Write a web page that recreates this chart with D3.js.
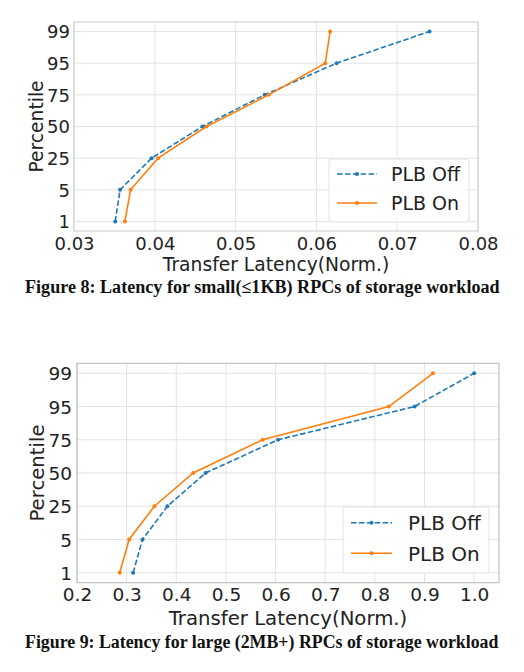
<!DOCTYPE html>
<html>
<head>
<meta charset="utf-8">
<script src="https://cdn.jsdelivr.net/npm/d3@7"></script>
<style>
  html, body { margin: 0; padding: 0; background: #fff; }
  svg { display: block; }
</style>
</head>
<body>
<svg id="fig" width="524" height="672"></svg>
<script>
// ---- Data ----
const percentiles = ["1", "5", "25", "50", "75", "95", "99"];
const seriesNames = ["PLB Off", "PLB On"];

// Figure 8: small (<=1KB) RPCs
const smallOff = [0.0351, 0.0357, 0.0396, 0.0459, 0.0536, 0.0625, 0.0740];
const smallOn  = [0.0363, 0.0370, 0.0404, 0.0464, 0.0541, 0.0611, 0.0617];
const smallTicks = [0.03, 0.04, 0.05, 0.06, 0.07, 0.08];
const smallTickLabels = ["0.03", "0.04", "0.05", "0.06", "0.07", "0.08"];

// Figure 9: large (2MB+) RPCs
const largeOff = [0.313, 0.332, 0.382, 0.459, 0.605, 0.880, 1.000];
const largeOn  = [0.286, 0.305, 0.356, 0.434, 0.574, 0.828, 0.917];
const largeTicks = [0.2, 0.3, 0.4, 0.5, 0.6, 0.7, 0.8, 0.9, 1.0];
const largeTickLabels = ["0.2", "0.3", "0.4", "0.5", "0.6", "0.7", "0.8", "0.9", "1.0"];

const xLabel = "Transfer Latency(Norm.)";
const yLabel = "Percentile";
const caption8 = "Figure 8: Latency for small(\u22641KB) RPCs of storage workload";
const caption9 = "Figure 9: Latency for large (2MB+) RPCs of storage workload";

const colors = ["#1f77b4", "#ff7f0e"];
const dashes = ["5.5,2.4", null];
const sans = "'DejaVu Sans', sans-serif";
const serif = "'Liberation Serif', 'DejaVu Serif', serif";

const svg = d3.select("#fig");

function drawChart(cfg) {
  const g = svg.append("g");
  const x = d3.scaleLinear().domain(cfg.xDomain).range([cfg.left, cfg.right]);
  const yIdx = d3.scaleLinear().domain([-0.3, percentiles.length - 1 + 0.3]).range([cfg.bottom, cfg.top]);
  const y = p => yIdx(percentiles.indexOf(p));

  // gridlines
  const grid = g.append("g");
  grid.selectAll("line.gx").data(cfg.ticks).join("line")
    .attr("x1", d => x(d)).attr("x2", d => x(d))
    .attr("y1", cfg.top).attr("y2", cfg.bottom)
    .attr("stroke", "#e3e3e3").attr("stroke-width", 1);
  grid.selectAll("line.gy").data(percentiles).join("line")
    .attr("x1", cfg.left).attr("x2", cfg.right)
    .attr("y1", d => y(d)).attr("y2", d => y(d))
    .attr("stroke", "#e3e3e3").attr("stroke-width", 1);

  // axes via d3 axis (no tick lines, just labels)
  const xAxis = d3.axisBottom(x).tickValues(cfg.ticks)
    .tickFormat((d, i) => cfg.tickLabels[i]).tickSize(0).tickPadding(0);
  const xg = g.append("g").attr("transform", `translate(0,${cfg.bottom})`).call(xAxis);
  xg.select(".domain").remove();
  xg.selectAll("text").attr("font-family", sans).attr("font-size", cfg.tickFont)
    .attr("fill", "#222").attr("dy", null).attr("y", cfg.xTickBase - cfg.bottom);

  const yScaleBand = d3.scalePoint().domain(percentiles)
    .range([yIdx(0), yIdx(percentiles.length - 1)]);
  const yAxis = d3.axisLeft(yScaleBand).tickSize(0).tickPadding(0);
  const yg = g.append("g").attr("transform", `translate(${cfg.yTickRight},0)`).call(yAxis);
  yg.select(".domain").remove();
  yg.selectAll("text").attr("font-family", sans).attr("font-size", cfg.tickFont)
    .attr("fill", "#222").attr("dy", "0.36em").attr("x", 0);

  // frame
  g.append("rect").attr("x", cfg.left).attr("y", cfg.top)
    .attr("width", cfg.right - cfg.left).attr("height", cfg.bottom - cfg.top)
    .attr("fill", "none").attr("stroke", cfg.frame).attr("stroke-width", 1);

  // series
  const line = d3.line().x(d => x(d.v)).y(d => y(d.p));
  cfg.series.forEach((vals, si) => {
    const pts = vals.map((v, i) => ({ v, p: percentiles[i] }));
    g.append("path").datum(pts).attr("d", line)
      .attr("fill", "none").attr("stroke", colors[si]).attr("stroke-width", 1.6)
      .attr("stroke-dasharray", dashes[si]);
    g.selectAll(null).data(pts).join("circle")
      .attr("cx", d => x(d.v)).attr("cy", d => y(d.p)).attr("r", 2)
      .attr("fill", colors[si]);
  });

  // legend
  const L = cfg.legend;
  g.append("rect").attr("x", L.x).attr("y", L.y).attr("width", L.w).attr("height", L.h)
    .attr("rx", 3).attr("fill", "#fff").attr("fill-opacity", 0.85)
    .attr("stroke", "#e2e2e2").attr("stroke-width", 1);
  seriesNames.forEach((name, si) => {
    const ly = L.rows[si];
    g.append("line").attr("x1", L.lx1).attr("x2", L.lx2).attr("y1", ly).attr("y2", ly)
      .attr("stroke", colors[si]).attr("stroke-width", 1.6).attr("stroke-dasharray", dashes[si]);
    g.append("circle").attr("cx", (L.lx1 + L.lx2) / 2).attr("cy", ly).attr("r", 2).attr("fill", colors[si]);
    g.append("text").attr("x", L.tx).attr("y", ly).attr("dy", "0.36em")
      .attr("font-family", sans).attr("font-size", L.font).attr("fill", "#222").text(name);
  });

  // axis labels
  g.append("text").attr("x", (cfg.left + cfg.right) / 2).attr("y", cfg.xLabelBase)
    .attr("text-anchor", "middle").attr("font-family", sans).attr("font-size", cfg.labelFont)
    .attr("fill", "#222").text(xLabel);
  g.append("text")
    .attr("transform", `translate(${cfg.yLabelX},${(cfg.top + cfg.bottom) / 2}) rotate(-90)`)
    .attr("text-anchor", "middle").attr("font-family", sans).attr("font-size", cfg.labelFont)
    .attr("fill", "#222").text(yLabel);

  // caption, fitted to width
  const cap = g.append("text").attr("x", cfg.capX).attr("y", cfg.capBase)
    .attr("font-family", serif).attr("font-weight", "bold").attr("font-size", 16)
    .attr("fill", "#111").text(cfg.caption);
  const w = cap.node().getComputedTextLength();
  cap.attr("font-size", 16 * cfg.capW / w);
}

drawChart({
  xDomain: [0.03, 0.08], ticks: smallTicks, tickLabels: smallTickLabels,
  left: 74, right: 478, top: 22, bottom: 231,
  series: [smallOff, smallOn],
  tickFont: 18, labelFont: 18.7, frame: "#cccccc",
  xTickBase: 250, yTickRight: 70,
  xLabelBase: 270.5, yLabelX: 43,
  legend: { x: 329, y: 159, w: 140, h: 63, lx1: 337, lx2: 377, tx: 391, rows: [174, 203], font: 19 },
  caption: caption8, capX: 25, capBase: 293, capW: 475
});

drawChart({
  xDomain: [0.2, 1.05], ticks: largeTicks, tickLabels: largeTickLabels,
  left: 77, right: 499, top: 363.3, bottom: 582.7,
  series: [largeOff, largeOn],
  tickFont: 18.5, labelFont: 19.7, frame: "#b5b5b5",
  xTickBase: 601.5, yTickRight: 72,
  xLabelBase: 625, yLabelX: 44,
  legend: { x: 343, y: 507, w: 146, h: 66, lx1: 351, lx2: 392, tx: 408, rows: [522.7, 553.3], font: 20 },
  caption: caption9, capX: 25, capBase: 648, capW: 474
});
</script>
</body>
</html>
